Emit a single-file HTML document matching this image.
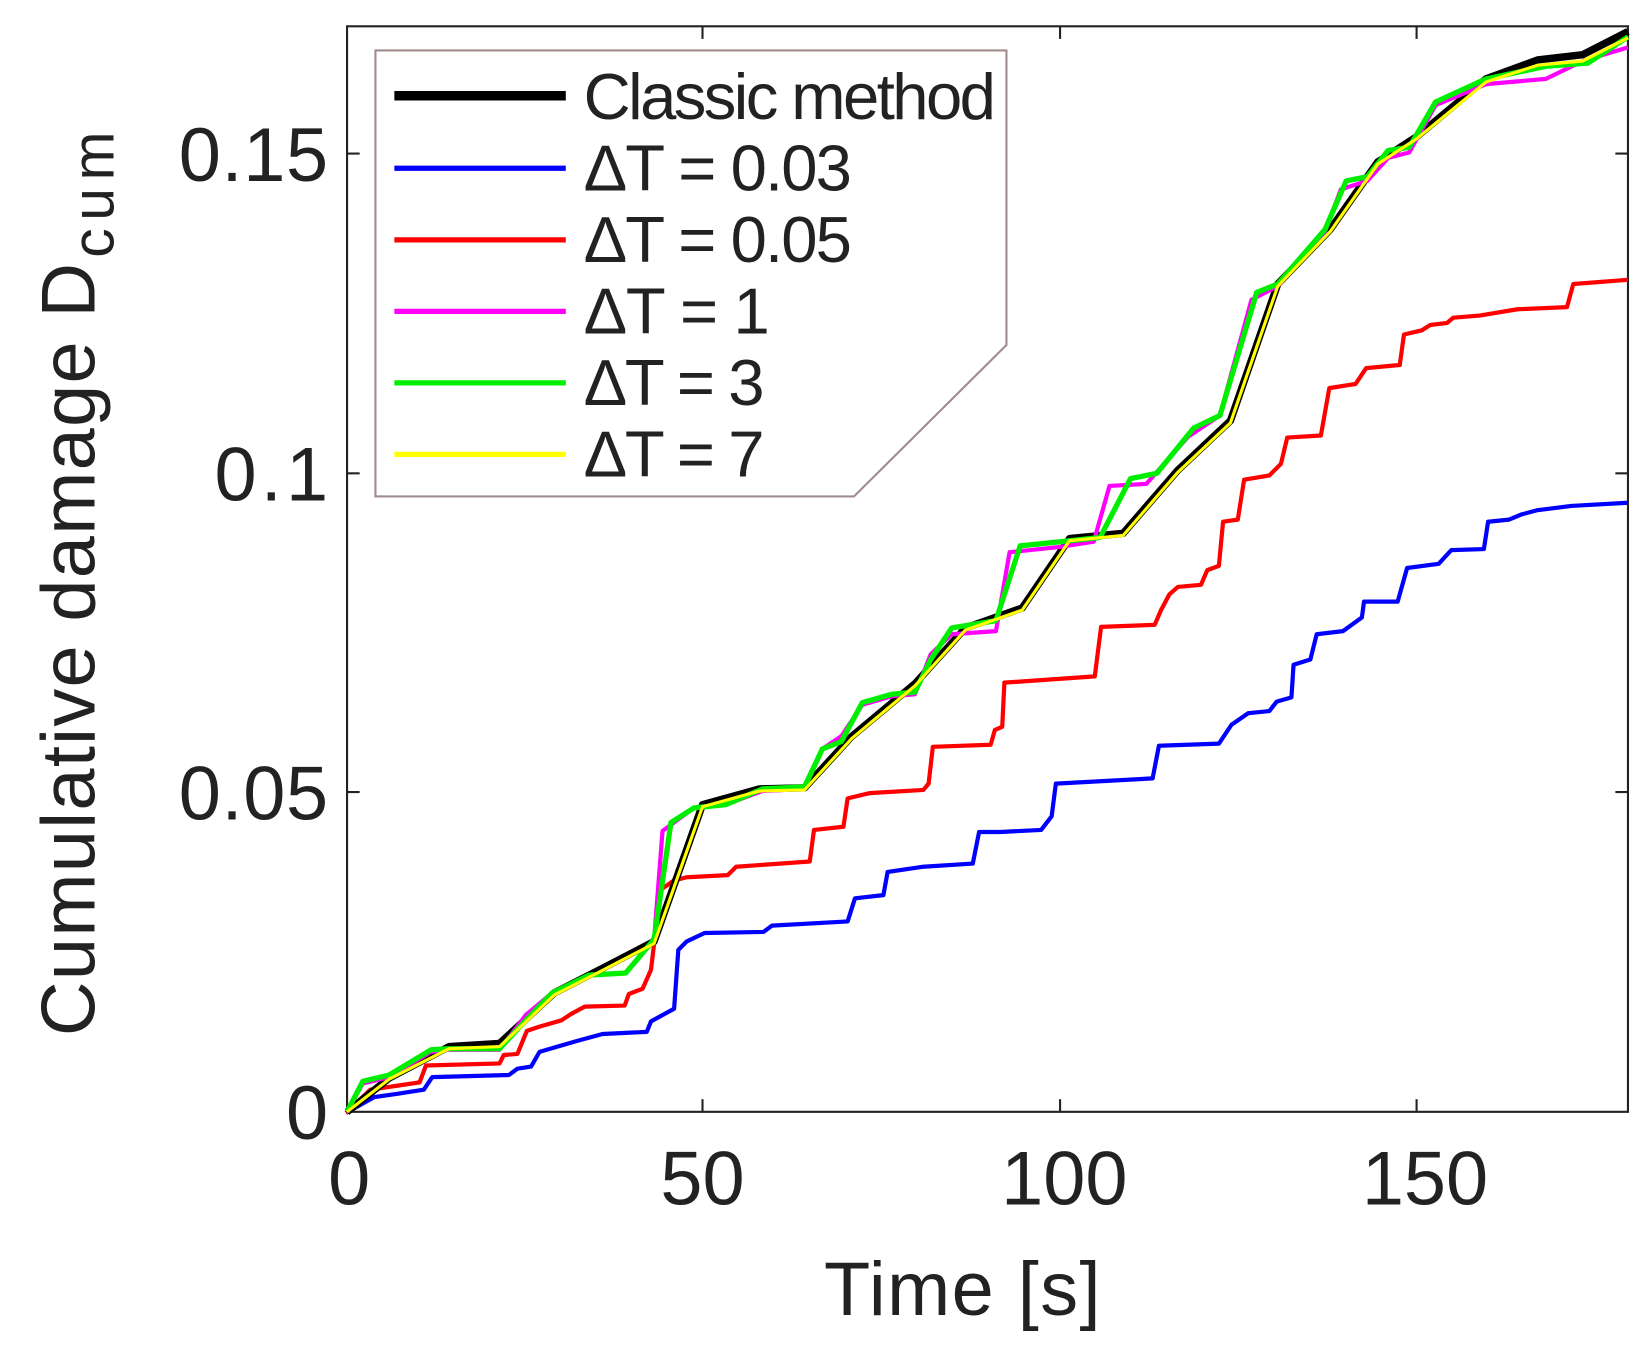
<!DOCTYPE html>
<html><head><meta charset="utf-8"><style>
html,body{margin:0;padding:0;background:#fff;}
svg{display:block;}
text{font-family:"Liberation Sans",sans-serif;fill:#222;}
</style></head><body>
<svg width="1649" height="1359" viewBox="0 0 1568 1292" preserveAspectRatio="none" xmlns="http://www.w3.org/2000/svg">
<rect x="0" y="0" width="1568" height="1292" fill="#fff"/>
<rect x="330" y="25" width="1218" height="1032" fill="none" stroke="#222" stroke-width="2"/>
<g stroke="#222" stroke-width="2">
<line x1="330" y1="753" x2="342" y2="753"/><line x1="330" y1="450" x2="342" y2="450"/><line x1="330" y1="146" x2="342" y2="146"/>
<line x1="1548" y1="753" x2="1536" y2="753"/><line x1="1548" y1="450" x2="1536" y2="450"/><line x1="1548" y1="146" x2="1536" y2="146"/>
<line x1="668" y1="1057" x2="668" y2="1045"/><line x1="1008" y1="1057" x2="1008" y2="1045"/><line x1="1347" y1="1057" x2="1347" y2="1045"/>
<line x1="668" y1="25" x2="668" y2="37"/><line x1="1008" y1="25" x2="1008" y2="37"/><line x1="1347" y1="25" x2="1347" y2="37"/>
</g>
<g font-size="72" text-anchor="end">
<text x="312" y="1083">0</text>
<text x="312" y="779" textLength="142">0.05</text>
<text x="312" y="476" textLength="108">0.1</text>
<text x="312" y="172" textLength="142">0.15</text>
</g>
<g font-size="72" text-anchor="middle">
<text x="332" y="1145">0</text>
<text x="668" y="1145">50</text>
<text x="1012" y="1145">100</text>
<text x="1355" y="1145">150</text>
<text x="915" y="1250" textLength="263">Time [s]</text>
</g>
<text transform="translate(90,985) rotate(-90)" font-size="72" textLength="735">Cumulative damage D</text>
<text transform="translate(108,245) rotate(-90)" font-size="56" textLength="120">cum</text>

<g fill="none" stroke-linejoin="round">
<polyline stroke="#0000ff" stroke-width="4" points="329,1058 356,1043 377,1040 403,1036 411,1024 484,1022 492,1016 505,1014 513,1000 530,995 551,989 573,983 615,981 619,971 641,959 645,903 653,895 670,887 726,886 734,880 806,876 813,854 840,851 844,829 878,824 925,821 931,791 951,791 990,789 1000,776 1004,745 1096,740 1102,709 1159,707 1171,689 1187,678 1207,676 1214,667 1228,663 1230,632 1246,627 1252,603 1277,600 1295,587 1297,572 1329,572 1338,540 1368,536 1380,523 1411,522 1415,496 1435,494 1447,489 1462,485 1494,481 1548,478"/>
<polyline stroke="#ff0000" stroke-width="4" points="329,1058 352,1036 399,1029 405,1013 475,1011 479,1003 492,1002 501,980 513,976 534,970 543,964 556,957 594,956 598,945 611,940 619,922 622,897 628,846 641,837 653,834 692,832 700,824 770,819 774,789 802,786 806,759 827,754 878,751 883,745 887,710 942,708 946,694 953,691 955,650 955,649 1041,643 1047,596 1098,594 1104,580 1112,565 1120,558 1142,556 1148,542 1159,538 1163,496 1177,494 1183,456 1207,452 1218,441 1224,416 1256,414 1264,369 1289,365 1299,350 1331,347 1335,318 1352,314 1360,309 1376,307 1382,302 1407,300 1443,294 1490,292 1496,270 1548,266"/>
<polyline stroke="#000" stroke-width="7" points="330,1057 370,1025 427,995 475,992 527,944 572,921 622,895 668,765 722,750 765,749 810,700 870,650 918,597 972,578 1017,512 1068,507 1120,447 1170,400 1215,270 1265,218 1310,154 1347,130 1413,75 1462,57 1505,52 1548,30"/>
<polyline stroke="#ff00ff" stroke-width="4" points="330,1057 345,1030 370,1024 410,1000 425,998 475,998 500,965 525,944 560,927 595,925 622,893 630,790 660,768 690,765 725,752 765,750 782,712 800,700 820,670 848,662 870,660 885,622 905,603 947,600 960,525 1008,520 1040,515 1055,462 1090,460 1130,415 1160,395 1190,285 1215,272 1260,220 1275,180 1300,172 1320,150 1340,145 1365,100 1413,80 1470,75 1505,58 1548,45"/>
<polyline stroke="#00ee00" stroke-width="5" points="330,1057 345,1028 370,1022 410,998 425,997 475,997 500,970 525,944 560,927 595,925 622,893 638,782 660,768 690,765 725,750 765,748 782,712 800,705 820,668 848,660 870,658 885,627 905,597 947,590 970,519 1008,515 1046,511 1075,455 1100,450 1135,407 1160,395 1195,278 1215,270 1260,218 1280,172 1300,168 1320,143 1340,140 1365,97 1413,75 1470,63 1510,60 1548,35"/>
<polyline stroke="#ffff00" stroke-width="3" points="330,1057 370,1026 427,997 475,995 527,946 572,923 622,897 668,767 722,752 765,751 810,702 870,652 918,599 972,580 1017,514 1068,509 1120,449 1170,402 1215,272 1265,220 1310,156 1347,132 1413,78 1462,62 1505,58 1548,36"/>
</g>

<polygon points="357,48 957,48 957,328 812,472 357,472" fill="#fff" stroke="#a08c8c" stroke-width="2"/>
<g stroke-width="5">
<line x1="375" y1="91" x2="538" y2="91" stroke="#000" stroke-width="9"/>
<line x1="375" y1="160" x2="538" y2="160" stroke="#0000ff"/>
<line x1="375" y1="228" x2="538" y2="228" stroke="#ff0000"/>
<line x1="375" y1="296" x2="538" y2="296" stroke="#ff00ff"/>
<line x1="375" y1="364" x2="538" y2="364" stroke="#00ee00"/>
<line x1="375" y1="432" x2="538" y2="432" stroke="#ffff00"/>
</g>
<g font-size="62">
<text x="555" y="113" textLength="392">Classic method</text>
<text x="555" y="181" textLength="255">ΔT = 0.03</text>
<text x="555" y="249" textLength="255">ΔT = 0.05</text>
<text x="555" y="317" textLength="177">ΔT = 1</text>
<text x="555" y="385" textLength="172">ΔT = 3</text>
<text x="555" y="453" textLength="172">ΔT = 7</text>
</g>
</svg>
</body></html>
